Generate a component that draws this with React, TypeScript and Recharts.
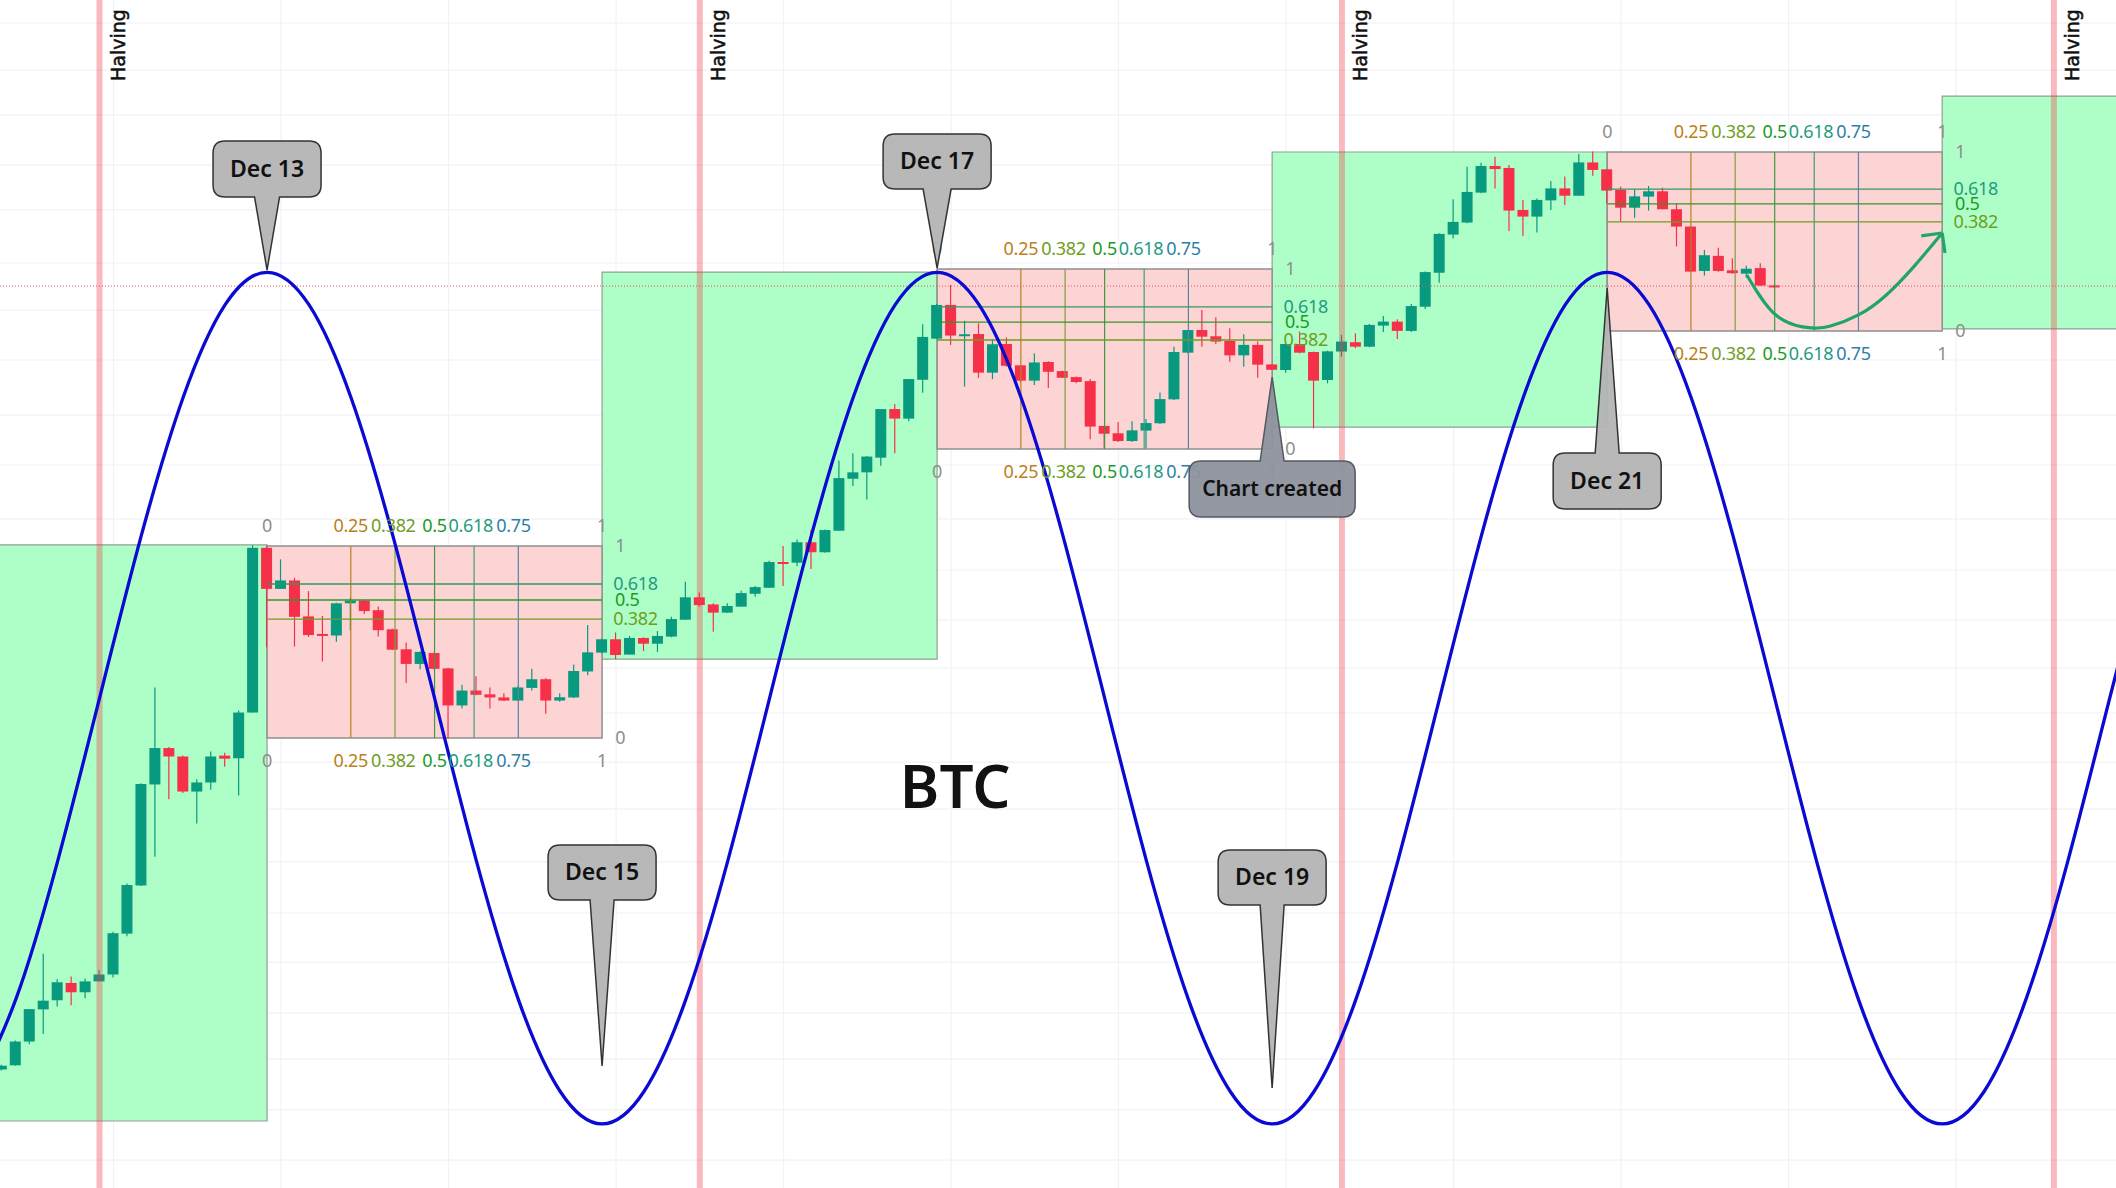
import React from "react";
import {
  ComposedChart, Bar, Line, XAxis, YAxis, CartesianGrid,
  ReferenceArea, ReferenceLine, ReferenceDot,
} from "recharts";

// Monthly BTC candles. X = months since Dec 2013, Y = log10(price in USD).
const firstCandleMonth = -19;
const opens = [
  0.703,0.722,0.829,0.974,1.015,1.093,1.051,1.100,1.131,1.315,1.532,1.987,2.151,2.113,1.955,1.996,2.117,2.105,2.311,
  3.053,2.868,2.906,2.744,2.665,2.658,2.803,2.815,2.772,2.686,2.596,2.530,2.579,2.510,2.343,2.410,2.393,2.379,2.365,2.422,2.461,2.365,2.379,2.496,
  2.581,2.641,2.572,2.647,2.621,2.653,2.729,2.830,2.798,2.761,2.788,2.846,2.873,2.989,2.986,3.078,3.033,3.130,3.364,3.393,3.459,3.678,3.635,3.810,
  3.995,4.147,4.009,4.016,3.842,3.971,3.875,3.806,3.890,3.849,3.822,3.804,3.602,3.569,3.534,3.581,3.614,3.722,3.932,4.034,4.006,3.985,3.920,3.967,
  3.879,3.854,3.971,3.935,3.809,3.937,3.979,3.959,4.054,4.072,4.030,4.139,4.292,4.464,4.518,4.653,4.773,4.764,4.575,4.545,4.618,4.672,4.639,4.789,
  4.758,4.665,4.585,4.635,4.659,4.578,4.500,4.300,4.368,4.303,4.288,4.313,4.235,
];
const closes = [
  0.720,0.829,0.975,1.013,1.096,1.051,1.100,1.131,1.317,1.534,1.989,2.151,2.113,1.955,1.996,2.113,2.103,2.311,3.053,
  2.868,2.906,2.742,2.660,2.658,2.803,2.815,2.768,2.682,2.594,2.530,2.584,2.508,2.343,2.410,2.391,2.379,2.365,2.424,2.461,2.365,2.380,2.498,2.582,
  2.641,2.570,2.647,2.621,2.656,2.732,2.830,2.795,2.761,2.791,2.849,2.876,2.989,2.986,3.078,3.033,3.133,3.367,3.393,3.464,3.678,3.635,3.813,4.003,
  4.147,4.009,4.015,3.842,3.970,3.873,3.806,3.888,3.846,3.819,3.800,3.599,3.567,3.534,3.582,3.615,3.723,3.935,4.034,4.004,3.982,3.920,3.967,3.878,
  3.855,3.971,3.932,3.806,3.938,3.982,3.959,4.057,4.072,4.030,4.142,4.295,4.467,4.521,4.656,4.773,4.759,4.572,4.545,4.620,4.672,4.639,4.789,4.755,
  4.662,4.585,4.636,4.659,4.578,4.500,4.297,4.371,4.300,4.290,4.310,4.234,4.226,
];
const highs = [
  0.725,0.834,0.975,1.224,1.110,1.122,1.113,1.151,1.324,1.541,1.993,2.424,2.156,2.117,2.010,2.136,2.130,2.320,3.065,
  3.061,3.001,2.918,2.858,2.746,2.806,2.829,2.820,2.789,2.689,2.627,2.587,2.582,2.513,2.436,2.475,2.424,2.398,2.429,2.508,2.467,2.398,2.527,2.705,
  2.644,2.672,2.656,2.650,2.678,2.743,2.900,2.852,2.803,2.803,2.860,2.881,2.995,3.061,3.091,3.133,3.136,3.446,3.479,3.467,3.678,3.701,3.813,4.060,
  4.151,4.237,4.076,4.064,3.992,4.001,3.876,3.929,3.893,3.851,3.825,3.813,3.603,3.620,3.623,3.633,3.753,3.959,4.034,4.124,4.091,4.042,4.015,3.982,
  3.881,3.971,4.027,3.937,3.941,4.012,4.019,4.061,4.097,4.082,4.151,4.298,4.470,4.623,4.770,4.788,4.815,4.777,4.620,4.626,4.705,4.725,4.827,4.838,
  4.759,4.680,4.668,4.683,4.675,4.605,4.503,4.395,4.405,4.357,4.324,4.335,4.238,
];
const lows = [
  0.699,0.720,0.817,0.863,0.987,0.993,1.024,1.100,1.117,1.303,1.530,1.661,1.920,1.949,1.811,1.963,2.067,1.937,2.311,
  2.605,2.868,2.608,2.651,2.541,2.630,2.682,2.755,2.653,2.593,2.444,2.506,2.505,2.194,2.329,2.389,2.329,2.363,2.363,2.410,2.306,2.360,2.377,2.479,
  2.578,2.552,2.572,2.588,2.584,2.650,2.728,2.788,2.675,2.761,2.788,2.833,2.873,2.881,2.971,2.957,3.031,3.130,3.331,3.271,3.423,3.479,3.623,3.752,
  3.995,3.967,3.779,3.819,3.813,3.869,3.801,3.786,3.773,3.818,3.794,3.542,3.500,3.530,3.530,3.501,3.611,3.719,3.929,3.959,3.971,3.891,3.869,3.819,
  3.854,3.842,3.929,3.591,3.794,3.914,3.952,3.956,4.025,3.994,4.025,4.129,4.247,4.446,4.515,4.650,4.672,4.480,4.458,4.473,4.575,4.597,4.638,4.729,
  4.605,4.522,4.540,4.572,4.578,4.410,4.295,4.279,4.297,4.288,4.271,4.232,4.225,
];

// Cycle curve, read every three months from month -21.
const cycleFirstMonth = -21;
const cycleValues = [
  0.604,1.019,1.642,2.376,3.110,3.732,4.148,
  4.294,4.148,3.732,3.110,2.376,1.642,1.019,0.604,0.458,0.604,1.019,1.642,2.376,3.110,3.732,4.148,
  4.294,4.148,3.732,3.110,2.376,1.642,1.019,0.604,0.458,0.604,1.019,1.642,2.376,3.110,3.732,4.148,
  4.294,4.148,3.732,3.110,2.376,1.642,1.019,0.604,0.458,0.604,1.019,1.642,2.376,3.110,
];

// Projected recovery arrow.
const arrowMonths = [106, 108, 110, 111, 112, 114, 116, 118, 120];
const arrowValues = [4.282, 4.106, 4.048, 4.043, 4.052, 4.102, 4.192, 4.322, 4.471];

const halvingMonths = [-12, 31, 77, 128];
const verticalGrid = [-11, 1, 13, 25, 37, 49, 61, 73, 85, 97, 109, 121];
const horizontalGrid = [5.417,5.205,5.003,4.777,4.575,4.336,4.124,3.899,3.651,3.426,3.183,2.953,2.728,2.512,2.309,2.088,1.876,1.638,1.408,1.187,0.957,0.750,0.521,0.295];
const referencePrice = 4.232;

const greenBoxes = [
  { x1: -21, x2: 0, top: 3.066, bottom: 0.471 },
  { x1: 24, x2: 48, top: 4.295, bottom: 2.552 },
  { x1: 72, x2: 96, top: 4.836, bottom: 3.597 },
  { x1: 120, x2: 140, top: 5.088, bottom: 4.039 },
];
const fibBoxes = [
  { start: 0, top: 3.061, bottom: 2.196, l618: 2.890, l5: 2.818, l382: 2.732, above: 3.151, below: 2.093 },
  { start: 48, top: 4.309, bottom: 3.498, l618: 4.138, l5: 4.070, l382: 3.989, above: 4.399, below: 3.395 },
  { start: 96, top: 4.836, bottom: 4.030, l618: 4.669, l5: 4.602, l382: 4.521, above: 4.926, below: 3.926 },
];
const fibSpan = 24;
const fibTimeRatios = [0.25, 0.382, 0.5, 0.618, 0.75];
const fibTimeLabels = ["0.25", "0.382", "0.5", "0.618", "0.75"];
const fibLabelOffsets = [6, 9.05, 12, 14.6, 17.65];

const calloutLabels = ["Dec 13", "Dec 15", "Dec 17", "Dec 19", "Dec 21", "Chart created"];
const calloutMonths = [0, 24, 48, 72, 96, 72];
const calloutTips = [4.304, 0.719, 4.313, 0.620, 4.223, 3.822];

const rows: any[] = [];
for (let m = -21; m <= 135; m++) {
  const i = m - firstCandleMonth;
  const hasCandle = i >= 0 && i < opens.length;
  const s = (m - cycleFirstMonth) / 3;
  const a = arrowMonths.indexOf(m);
  rows.push({
    month: m,
    open: hasCandle ? opens[i] : null,
    close: hasCandle ? closes[i] : null,
    high: hasCandle ? highs[i] : null,
    low: hasCandle ? lows[i] : null,
    range: hasCandle ? [lows[i], highs[i]] : null,
    cycle: Number.isInteger(s) ? cycleValues[s] : null,
    arrow: a >= 0 ? arrowValues[a] : null,
  });
}

const UP = "#089a7f";
const DOWN = "#f7304a";
const FONT = '"Noto Sans", sans-serif';
const GREEN_FILL = "#aeffc7";
const PINK_FILL = "#fdd4d4";
const ARROW = "#1fa56a";
const RATIO_COLORS = ["#b9801c", "#6e9e1e", "#1a9a1f", "#1f9c80", "#2f7fa5"];
const LINE_COLORS = ["#b9801c", "#7aa040", "#3f9a3f", "#3f9a80", "#5f80a8"];

function Candle(props: any) {
  const { x, y, width, height, payload } = props;
  if (!payload || payload.open == null) return null;
  const top = Math.min(y, y + height);
  const H = Math.abs(height);
  const span = payload.high - payload.low || 1;
  const py = (v: number) => top + ((payload.high - v) / span) * H;
  const yo = py(payload.open);
  const yc = py(payload.close);
  const color = payload.close >= payload.open ? UP : DOWN;
  const cx = x + width / 2;
  return (
    <g>
      <line x1={cx} x2={cx} y1={top} y2={top + H} stroke={color} strokeWidth={1.2} />
      <rect x={x} y={Math.min(yo, yc)} width={width} height={Math.max(Math.abs(yc - yo), 2)} fill={color} />
    </g>
  );
}

const calloutLayout = [
  { w: 108, h: 56, gap: 73, half: 12.5, dir: -1, fill: "#b4b4b4", stroke: "#333" },
  { w: 108, h: 55, gap: 166, half: 12, dir: -1, fill: "#b4b4b4", stroke: "#333" },
  { w: 108, h: 55, gap: 79, half: 14, dir: -1, fill: "#b4b4b4", stroke: "#333" },
  { w: 108, h: 55, gap: 183, half: 12, dir: -1, fill: "#b4b4b4", stroke: "#333" },
  { w: 108, h: 56, gap: 165, half: 12, dir: 1, fill: "#b4b4b4", stroke: "#333" },
  { w: 166, h: 56, gap: 84, half: 12, dir: 1, fill: "#8d929e", stroke: "#55585f" },
];

function callout(i: number) {
  const L = calloutLayout[i];
  const shape = (p: any) => {
    const { cx, cy } = p;
    const r = 12;
    const hw = L.w / 2;
    const edge = cy + L.dir * L.gap;
    const far = edge + L.dir * L.h;
    const s = L.dir;
    const d = [
      `M ${cx} ${cy}`,
      `L ${cx + L.half} ${edge}`,
      `L ${cx + hw - r} ${edge}`,
      `Q ${cx + hw} ${edge} ${cx + hw} ${edge + s * r}`,
      `L ${cx + hw} ${far - s * r}`,
      `Q ${cx + hw} ${far} ${cx + hw - r} ${far}`,
      `L ${cx - hw + r} ${far}`,
      `Q ${cx - hw} ${far} ${cx - hw} ${far - s * r}`,
      `L ${cx - hw} ${edge + s * r}`,
      `Q ${cx - hw} ${edge} ${cx - hw + r} ${edge}`,
      `L ${cx - L.half} ${edge}`,
      "Z",
    ].join(" ");
    return (
      <g>
        <path d={d} fill={L.fill} fillOpacity={0.95} stroke={L.stroke} strokeWidth={1.5} />
        <text x={cx} y={(edge + far) / 2 - 1.5} textAnchor="middle" dominantBaseline="central"
          fontFamily={FONT} fontSize={i === 5 ? 21 : 23} fontWeight={600} fill="#111">
          {calloutLabels[i]}
        </text>
      </g>
    );
  };
  return (
    <ReferenceDot key={"c" + i} x={calloutMonths[i]} y={calloutTips[i]} r={0} ifOverflow="visible" shape={shape} />
  );
}

function tag(key: string, x: number, y: number, value: string, fill: string) {
  const shape = (p: any) => (
    <text x={p.cx} y={p.cy - 1} textAnchor="middle" dominantBaseline="central" fontFamily={FONT} fontSize={18} letterSpacing={-0.3} fill={fill}>
      {value}
    </text>
  );
  return <ReferenceDot key={key} x={x} y={y} r={0} ifOverflow="visible" shape={shape} />;
}

function fibElements(b: any, idx: number) {
  const end = b.start + fibSpan;
  return (
    <ReferenceArea key={`fa${idx}`} x1={b.start} x2={end} y1={b.bottom} y2={b.top} fill={PINK_FILL} fillOpacity={1} stroke="#8f8f8f" strokeWidth={1.5} ifOverflow="visible" />
  );
}

function fibLines(b: any, idx: number) {
  const out: any[] = [];
  const end = b.start + fibSpan;
  fibTimeRatios.forEach((r, i) => {
    const x = b.start + r * fibSpan;
    out.push(
      <ReferenceLine key={`fv${idx}-${i}`} segment={[{ x, y: b.bottom }, { x, y: b.top }]} stroke={LINE_COLORS[i]} strokeWidth={1.2} ifOverflow="visible" />
    );
  });
  [[b.l618, "#2f9a60"], [b.l5, "#2a9a2a"], [b.l382, "#6a9e20"]].forEach(([y, c]: any, i) => {
    out.push(
      <ReferenceLine key={`fh${idx}-${i}`} segment={[{ x: b.start, y }, { x: end, y }]} stroke={c} strokeWidth={1.3} ifOverflow="visible" />
    );
  });
  return out;
}

function fibTags(b: any, idx: number) {
  const out: any[] = [];
  const end = b.start + fibSpan;
  const grey = "#8e8e8e";
  [b.above, b.below].forEach((y: number, k: number) => {
    out.push(tag(`t0-${idx}-${k}`, b.start, y, "0", grey));
    out.push(tag(`t1-${idx}-${k}`, end, y, "1", grey));
    fibTimeLabels.forEach((t, i) => {
      out.push(tag(`tr-${idx}-${k}-${i}`, b.start + fibLabelOffsets[i], y, t, RATIO_COLORS[i]));
    });
  });
  out.push(tag(`s1-${idx}`, end + 1.3, b.top, "1", grey));
  out.push(tag(`s0-${idx}`, end + 1.3, b.bottom, "0", grey));
  out.push(tag(`s618-${idx}`, end + 2.4, b.l618, "0.618", RATIO_COLORS[3]));
  out.push(tag(`s5-${idx}`, end + 1.8, b.l5, "0.5", RATIO_COLORS[2]));
  out.push(tag(`s382-${idx}`, end + 2.4, b.l382, "0.382", RATIO_COLORS[1]));
  return out;
}

function halvingTag(m: number) {
  const shape = (p: any) => (
    <text
      x={p.cx + 25.5}
      y={p.cy}
      transform={`rotate(-90 ${p.cx + 25.5} ${p.cy})`}
      fontFamily='"DejaVu Sans", sans-serif'
      fontSize={19}
      fill="#111"
      stroke="#111"
      strokeWidth={0.5}
    >
      Halving
    </text>
  );
  return <ReferenceDot key={"h" + m} x={m} y={5.156} r={0} ifOverflow="visible" shape={shape} />;
}

function bigLabel() {
  const shape = (p: any) => (
    <text x={p.cx} y={p.cy} textAnchor="middle" dominantBaseline="central" fontFamily={FONT} fontSize={60} fontWeight={600} fill="#111">
      BTC
    </text>
  );
  return <ReferenceDot key="btc" x={49.3} y={1.985} r={0} ifOverflow="visible" shape={shape} />;
}

export default function App() {
  return (
    <div style={{ position: "absolute", left: 0, top: 0, width: 2116, height: 1188, background: "#fff", overflow: "hidden" }}>
      <ComposedChart width={2116} height={1188} data={rows} margin={{ top: 0, right: 0, bottom: 0, left: 0 }}>
        <XAxis dataKey="month" type="number" domain={[-19.13, 132.45]} allowDataOverflow hide />
        <YAxis type="number" domain={[0.1693, 5.5206]} allowDataOverflow hide />
        <CartesianGrid stroke="#f1f2f5" strokeWidth={1.2} horizontalValues={horizontalGrid} verticalValues={verticalGrid} />

        {greenBoxes.map((b, i) => (
          <ReferenceArea key={"g" + i} x1={b.x1} x2={b.x2} y1={b.bottom} y2={b.top} fill={GREEN_FILL} fillOpacity={1} stroke="#8f9f95" strokeWidth={1.2} ifOverflow="hidden" />
        ))}
        {fibBoxes.map(fibElements)}
        {fibBoxes.map(fibLines)}
        {halvingMonths.map((m) => (
          <ReferenceLine key={"hl" + m} x={m} stroke="#f23645" strokeOpacity={0.35} strokeWidth={6} />
        ))}
        <ReferenceLine y={referencePrice} stroke="#e0505f" strokeWidth={1} strokeDasharray="1 2" />

        {fibBoxes.map(fibTags)}
        {halvingMonths.map(halvingTag)}
        {bigLabel()}

        <Bar dataKey="range" barSize={11} shape={Candle} isAnimationActive={false} />
        <Line dataKey="cycle" type="natural" connectNulls stroke="#0a0ad2" strokeWidth={3.3} dot={false} activeDot={false} isAnimationActive={false} />
        <Line dataKey="arrow" type="natural" connectNulls stroke={ARROW} strokeWidth={3.2} dot={false} activeDot={false} isAnimationActive={false} />
        <ReferenceLine segment={[{ x: 118.5, y: 4.458 }, { x: 120.0, y: 4.471 }]} stroke={ARROW} strokeWidth={3.2} ifOverflow="visible" />
        <ReferenceLine segment={[{ x: 120.0, y: 4.471 }, { x: 120.2, y: 4.381 }]} stroke={ARROW} strokeWidth={3.2} ifOverflow="visible" />

        {calloutLabels.map((_, i) => callout(i))}
      </ComposedChart>
    </div>
  );
}
